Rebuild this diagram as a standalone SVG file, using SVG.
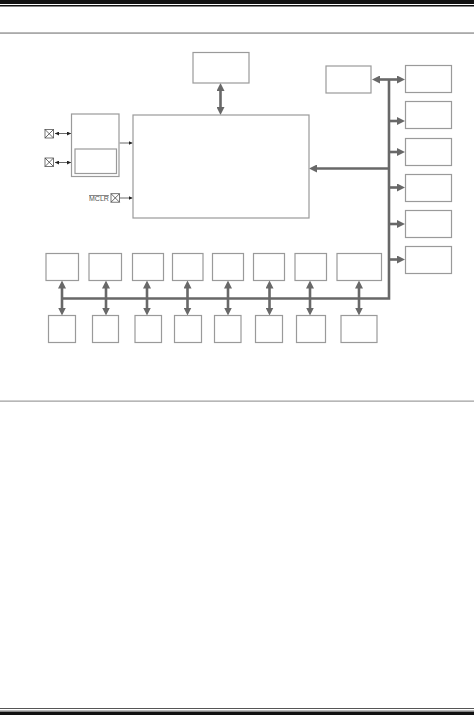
<svg xmlns="http://www.w3.org/2000/svg" width="474" height="723" viewBox="0 0 474 723">
<style>
.box{fill:#fff;stroke:#9a9a9a;stroke-width:1.2}
.bus{fill:none;stroke:#686868;stroke-width:2.6}
.thin{fill:none;stroke:#444;stroke-width:0.8}
.pin{fill:#fff;stroke:#555;stroke-width:0.8}
.lbl{font-family:"Liberation Sans",Arial,sans-serif;font-size:7px;fill:#555}
</style>
<defs>
<marker id="ah" viewBox="0 0 8 8" refX="2" refY="4" markerWidth="8" markerHeight="8" markerUnits="userSpaceOnUse" orient="auto-start-reverse">
<path d="M0,0 L8,4 L0,8 z" fill="#686868"/>
</marker>
<marker id="sa" viewBox="0 0 4 4" refX="4" refY="2" markerWidth="4" markerHeight="4" markerUnits="userSpaceOnUse" orient="auto-start-reverse">
<path d="M0,0 L4,2 L0,4 z" fill="#222"/>
</marker>
</defs>
<rect width="474" height="723" fill="#fff"/>
<g id="page-frame">
<rect x="0" y="0" width="474" height="4" fill="#111"/>
<rect x="0" y="5" width="474" height="1.5" fill="#111"/>
<rect x="0" y="32.2" width="474" height="1.8" fill="#aaa"/>
<rect x="0" y="400.6" width="474" height="1" fill="#888"/>
<rect x="0" y="708" width="474" height="1" fill="#555"/>
<rect x="0" y="710" width="474" height="1" fill="#bbb"/>
<rect x="0" y="711.5" width="474" height="3.5" fill="#111"/>
</g>
<g id="connectors">
<line class="bus" x1="220.5" y1="89" x2="220.5" y2="109" marker-start="url(#ah)" marker-end="url(#ah)"/>
<polyline class="bus" points="389,79.5 389,298.5 61,298.5"/>
<line class="bus" x1="378" y1="79.5" x2="399" y2="79.5" marker-start="url(#ah)" marker-end="url(#ah)"/>
<line class="bus" x1="389" y1="121" x2="399" y2="121" marker-end="url(#ah)"/>
<line class="bus" x1="389" y1="152" x2="399" y2="152" marker-end="url(#ah)"/>
<line class="bus" x1="389" y1="187.5" x2="399" y2="187.5" marker-end="url(#ah)"/>
<line class="bus" x1="389" y1="224" x2="399" y2="224" marker-end="url(#ah)"/>
<line class="bus" x1="389" y1="259.5" x2="399" y2="259.5" marker-end="url(#ah)"/>
<line class="bus" x1="389" y1="168.5" x2="315" y2="168.5" marker-end="url(#ah)"/>
<line class="bus" x1="62" y1="286.5" x2="62" y2="309.5" marker-start="url(#ah)" marker-end="url(#ah)"/>
<line class="bus" x1="106" y1="286.5" x2="106" y2="309.5" marker-start="url(#ah)" marker-end="url(#ah)"/>
<line class="bus" x1="147" y1="286.5" x2="147" y2="309.5" marker-start="url(#ah)" marker-end="url(#ah)"/>
<line class="bus" x1="187.5" y1="286.5" x2="187.5" y2="309.5" marker-start="url(#ah)" marker-end="url(#ah)"/>
<line class="bus" x1="228" y1="286.5" x2="228" y2="309.5" marker-start="url(#ah)" marker-end="url(#ah)"/>
<line class="bus" x1="269.5" y1="286.5" x2="269.5" y2="309.5" marker-start="url(#ah)" marker-end="url(#ah)"/>
<line class="bus" x1="310" y1="286.5" x2="310" y2="309.5" marker-start="url(#ah)" marker-end="url(#ah)"/>
<line class="bus" x1="359" y1="286.5" x2="359" y2="309.5" marker-start="url(#ah)" marker-end="url(#ah)"/>
<line class="thin" x1="55" y1="133.5" x2="71" y2="133.5" marker-start="url(#sa)" marker-end="url(#sa)"/>
<line class="thin" x1="55" y1="162.5" x2="71" y2="162.5" marker-start="url(#sa)" marker-end="url(#sa)"/>
<line class="thin" x1="119.5" y1="143" x2="132.5" y2="143" marker-end="url(#sa)"/>
<line class="thin" x1="120" y1="198" x2="132.5" y2="198" marker-end="url(#sa)"/>
</g>
<g id="node-top"><rect class="box" x="193" y="52.5" width="56" height="30.5"/></g>
<g id="node-core"><rect class="box" x="133" y="115" width="176" height="103"/></g>
<g id="node-left"><rect class="box" x="71.5" y="114" width="47.5" height="62.5"/></g>
<g id="node-left-inner"><rect class="box" x="75" y="149" width="41.5" height="24.5"/></g>
<g id="pin1"><rect class="pin" x="45" y="129.5" width="8.5" height="8.5"/><path class="thin" d="M45,129.5 L53.5,138 M53.5,129.5 L45,138"/></g>
<g id="pin2"><rect class="pin" x="45" y="158" width="8.5" height="8.5"/><path class="thin" d="M45,158 L53.5,166.5 M53.5,158 L45,166.5"/></g>
<g id="pin-mclr"><text class="lbl" x="89" y="201" text-decoration="overline">MCLR</text><rect class="pin" x="111" y="193.7" width="8.5" height="8.5"/><path class="thin" d="M111,193.7 L119.5,202.2 M119.5,193.7 L111,202.2"/></g>
<g id="node-r0"><rect class="box" x="326" y="66" width="45" height="27"/></g>
<g id="node-r1"><rect class="box" x="405.5" y="65.5" width="46" height="27"/></g>
<g id="node-r2"><rect class="box" x="405.5" y="101.5" width="46" height="27"/></g>
<g id="node-r3"><rect class="box" x="405.5" y="138.5" width="46" height="27"/></g>
<g id="node-r4"><rect class="box" x="405.5" y="174.5" width="46" height="27"/></g>
<g id="node-r5"><rect class="box" x="405.5" y="210.5" width="46" height="27"/></g>
<g id="node-r6"><rect class="box" x="405.5" y="246.5" width="46" height="27"/></g>
<g id="node-b1"><rect class="box" x="46" y="253.5" width="32.5" height="27"/></g>
<g id="node-b2"><rect class="box" x="89" y="253.5" width="32.5" height="27"/></g>
<g id="node-b3"><rect class="box" x="132.5" y="253.5" width="31" height="27"/></g>
<g id="node-b4"><rect class="box" x="172.5" y="253.5" width="30.5" height="27"/></g>
<g id="node-b5"><rect class="box" x="212.5" y="253.5" width="31" height="27"/></g>
<g id="node-b6"><rect class="box" x="253.5" y="253.5" width="31" height="27"/></g>
<g id="node-b7"><rect class="box" x="295" y="253.5" width="31.5" height="27"/></g>
<g id="node-b8"><rect class="box" x="337" y="253.5" width="44.5" height="27"/></g>
<g id="node-c1"><rect class="box" x="48.5" y="315.5" width="27" height="27"/></g>
<g id="node-c2"><rect class="box" x="92.5" y="315.5" width="26" height="27"/></g>
<g id="node-c3"><rect class="box" x="135" y="315.5" width="26.5" height="27"/></g>
<g id="node-c4"><rect class="box" x="174.5" y="315.5" width="27" height="27"/></g>
<g id="node-c5"><rect class="box" x="214.5" y="315.5" width="26.5" height="27"/></g>
<g id="node-c6"><rect class="box" x="255.5" y="315.5" width="27" height="27"/></g>
<g id="node-c7"><rect class="box" x="296.5" y="315.5" width="29" height="27"/></g>
<g id="node-c8"><rect class="box" x="341" y="315.5" width="36" height="27"/></g>
</svg>
